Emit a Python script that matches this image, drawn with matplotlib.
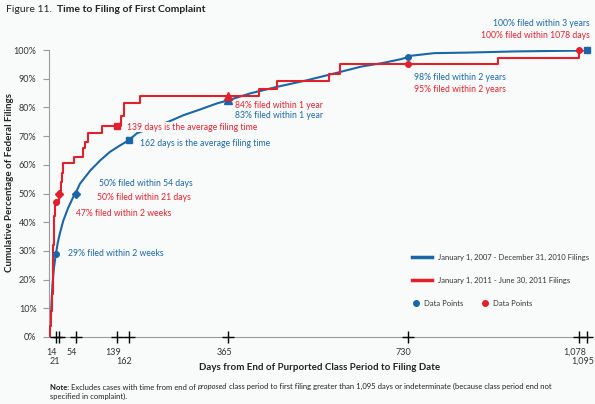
import matplotlib
matplotlib.use('Agg')
import matplotlib.pyplot as plt
import matplotlib.transforms as mtransforms

plt.rcParams['font.family'] = ['Lato', 'DejaVu Sans']

# 2007-2010 filings (blue), cumulative % by days
blue_days = [0, 4, 7, 10, 14, 18, 22, 29, 39, 50, 54, 63, 84, 104, 124, 145, 162, 179, 210,
             243, 274, 308, 342, 365, 410, 465, 526, 580, 635, 680, 716, 730, 737, 784, 852,
             947, 1084, 1095]
blue_pct = [0, 8, 18, 24, 29, 33, 36, 40.5, 45, 49, 50, 53.4, 58, 61.5, 64.5, 66.8, 68.5, 71, 73,
            75, 77.3, 79.3, 81.4, 82.5, 84.9, 87.2, 89.5, 91.8, 94.2, 95.5, 96.8, 97.5, 98, 98.9, 99.1,
            99.5, 99.8, 100]

# 2011 H1 filings (red), step changes
red_days = [0, 2, 4, 6, 8, 9, 10, 11, 12, 13, 14, 20, 21, 24, 26, 28, 29, 51, 69, 73, 80, 107,
            146, 152, 185, 428, 465, 570, 592, 913, 1078, 1095]
red_pct = [0, 4, 9, 15, 24, 32, 38, 42, 45, 46.5, 47, 48.5, 50, 54, 57, 58.5, 60.5, 62.7, 65.7, 68,
           71, 73.5, 77, 81.5, 84, 86.4, 89.2, 91.8, 95, 97.3, 100, 100]

# highlighted data points
blue_pts_x = [14, 54, 162, 365, 730, 1095]
blue_pts_y = [29, 50, 68.5, 82.5, 97.5, 100]
blue_pts_m = ['o', 'D', 's', '^', 'o', 's']
red_pts_x = [14, 21, 139, 365, 730, 1078]
red_pts_y = [47, 50, 73.5, 84, 95, 100]
red_pts_m = ['o', 'D', 's', '^', 'o', 'o']

xtick_pos = [14, 21, 54, 139, 162, 365, 730, 1078, 1095]
xtick_lab = ['14', '21', '54', '139', '162', '365', '730', '1,078', '1,095']
xtick_row2 = [False, True, False, False, True, False, False, False, True]

BLUE = '#1a66a6'
RED = '#e2202c'
BG = '#f9fbfb'
GRAY = '#333333'
msize = {'o': 4, 'D': 4.5, 's': 5, '^': 5.5}

fig = plt.figure(figsize=(5.95, 4.04), dpi=100, facecolor=BG)
ax = fig.add_axes([49/595, 1-337/404, 541/595, 287/404], facecolor=BG)

ax.plot(blue_days, blue_pct, color=BLUE, lw=1.5, zorder=2)
ax.plot(red_days, red_pct, color=RED, lw=1.5, drawstyle='steps-post', zorder=3)

for x, y, m in zip(blue_pts_x, blue_pts_y, blue_pts_m):
    ax.plot(x, y, marker=m, color=BLUE, ms=msize[m], zorder=5, clip_on=False)
for x, y, m in zip(red_pts_x, red_pts_y, red_pts_m):
    ax.plot(x, y, marker=m, color=RED, ms=msize[m], zorder=6, clip_on=False)

ax.set_xlim(0, 1101)
ax.set_ylim(0, 100)
for s in ['top', 'right']:
    ax.spines[s].set_visible(False)
for s in ['left', 'bottom']:
    ax.spines[s].set_color('#9a9a9a')
    ax.spines[s].set_linewidth(0.8)

ax.set_yticks(range(0, 101, 10))
ax.set_yticklabels([f'{v}%' for v in range(0, 101, 10)], fontsize=6.5, color=GRAY)
ax.tick_params(axis='y', length=4, width=0.8, color='#9a9a9a', pad=5)

ax.set_xticks(xtick_pos)
ax.set_xticklabels(xtick_lab, fontsize=6.5, color=GRAY)
ax.tick_params(axis='x', length=0, pad=8)
for lab, low in zip(ax.get_xticklabels(), xtick_row2):
    dy = -9/100 if low else 0
    lab.set_transform(lab.get_transform() + mtransforms.ScaledTranslation(-4/100, dy, fig.dpi_scale_trans))
ax.plot(xtick_pos, [0]*len(xtick_pos), '+', color='black', ms=8, mew=1.0, clip_on=False, zorder=7)

fs = 6.2
bb = dict(facecolor=BG, edgecolor='none', pad=0.5)
def note(x, y, s, c, ha='left'):
    fig.text(x/595, 1-y/404, s, color=c, fontsize=fs, ha=ha, va='center', bbox=bb, zorder=4)

note(590, 23, '100% filed within 3 years', BLUE, 'right')
note(590, 36, '100% filed within 1078 days', RED, 'right')
note(414, 77, '98% filed within 2 years', BLUE)
note(414, 89, '95% filed within 2 years', RED)
note(235, 105, '84% filed within 1 year', RED)
note(235, 116, '83% filed within 1 year', BLUE)
note(127, 127, '139 days is the average filing time', RED)
note(140, 143, '162 days is the average filing time', BLUE)
note(99, 184, '50% filed within 54 days', BLUE)
note(97, 197, '50% filed within 21 days', RED)
note(76, 213, '47% filed within 2 weeks', RED)
note(68, 254, '29% filed within 2 weeks', BLUE)

# legend
lx = [412/595, 432/595]
fig.add_artist(plt.Line2D(lx, [1-257/404]*2, color=BLUE, lw=2.5))
fig.add_artist(plt.Line2D(lx, [1-280/404]*2, color=RED, lw=2.5))
fig.text(438/595, 1-257/404, 'January 1, 2007 - December 31, 2010 Filings', fontsize=5.5, color=GRAY, va='center')
fig.text(438/595, 1-280/404, 'January 1, 2011 - June 30, 2011 Filings', fontsize=5.5, color=GRAY, va='center')
fig.add_artist(plt.Line2D([416/595], [1-303/404], marker='o', color=BLUE, ms=4))
fig.add_artist(plt.Line2D([485/595], [1-303/404], marker='o', color=RED, ms=4))
fig.text(424/595, 1-303/404, 'Data Points', fontsize=5.5, color=GRAY, va='center')
fig.text(493/595, 1-303/404, 'Data Points', fontsize=5.5, color=GRAY, va='center')

# axis titles
fig.text(320/595, 1-368/404, 'Days from End of Purported Class Period to Filing Date',
         fontsize=7, fontweight='bold', color='#222222', ha='center', va='center')
fig.text(10/595, 1-183/404, 'Cumulative Percentage of Federal Filings', rotation=90,
         fontsize=7, fontweight='bold', color='#222222', ha='center', va='center')

# title
t1 = fig.text(6/595, 1-10/404, 'Figure 11.  ', fontsize=7.5, color='#222222', va='center')
ax.annotate('Time to Filing of First Complaint', xy=(1, 0), xycoords=t1, fontsize=7.5,
            fontweight='bold', color='#222222', va='bottom', ha='left')

# footnote
n1 = fig.text(50/595, 1-387/404, 'Note: ', fontsize=5.5, fontweight='bold', color='#222222', va='center')
n2 = ax.annotate('Excludes cases with time from end of ', xy=(1, 0), xycoords=n1, fontsize=5.5,
                 color='#222222', va='bottom')
n3 = ax.annotate('proposed', xy=(1, 0), xycoords=n2, fontsize=5.5, style='italic',
                 color='#222222', va='bottom')
ax.annotate(' class period to first filing greater than 1,095 days or indeterminate (because class period end not',
            xy=(1, 0), xycoords=n3, fontsize=5.5, color='#222222', va='bottom')
fig.text(50/595, 1-396/404, 'specified in complaint).', fontsize=5.5, color='#222222', va='center')

fig.savefig('out.png', dpi=100, facecolor=BG)
